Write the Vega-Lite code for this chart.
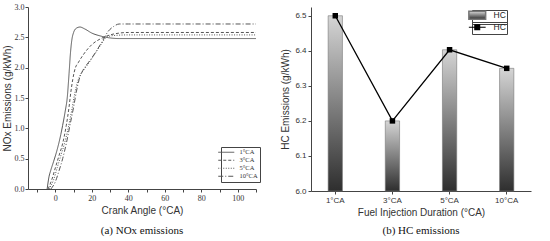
{
  "$schema": "https://vega.github.io/schema/vega-lite/v6.json",
  "background": "white",
  "padding": {"left": 2, "top": 3, "right": 5, "bottom": 3},
  "spacing": 22,
  "config": {
    "view": {"stroke": null},
    "axis": {"domainColor": "#444", "tickColor": "#444", "labelColor": "#333", "titleColor": "#333", "grid": false, "titleFontWeight": "normal", "tickSize": 3}
  },
  "hconcat": [
    {
      "width": 228,
      "height": 182,
      "title": {"text": "(a) NOx emissions", "orient": "bottom", "font": "Liberation Serif", "fontSize": 11, "fontWeight": "normal", "offset": 10, "color": "#111"},
      "data": {"values": [
        {"angle": -4.5, "nox": 0, "s": "1°CA"},
        {"angle": -3.5, "nox": 0.2, "s": "1°CA"},
        {"angle": -2.5, "nox": 0.31, "s": "1°CA"},
        {"angle": -1, "nox": 0.45, "s": "1°CA"},
        {"angle": 1, "nox": 0.65, "s": "1°CA"},
        {"angle": 3, "nox": 0.9, "s": "1°CA"},
        {"angle": 4, "nox": 1.05, "s": "1°CA"},
        {"angle": 5.5, "nox": 1.3, "s": "1°CA"},
        {"angle": 6.5, "nox": 1.5, "s": "1°CA"},
        {"angle": 7.5, "nox": 1.9, "s": "1°CA"},
        {"angle": 8.3, "nox": 2.25, "s": "1°CA"},
        {"angle": 9, "nox": 2.45, "s": "1°CA"},
        {"angle": 10, "nox": 2.58, "s": "1°CA"},
        {"angle": 11.5, "nox": 2.65, "s": "1°CA"},
        {"angle": 13.5, "nox": 2.67, "s": "1°CA"},
        {"angle": 16, "nox": 2.64, "s": "1°CA"},
        {"angle": 20, "nox": 2.57, "s": "1°CA"},
        {"angle": 25, "nox": 2.52, "s": "1°CA"},
        {"angle": 30, "nox": 2.49, "s": "1°CA"},
        {"angle": 35, "nox": 2.48, "s": "1°CA"},
        {"angle": 110, "nox": 2.48, "s": "1°CA"},
        {"angle": -4, "nox": 0, "s": "3°CA"},
        {"angle": -2, "nox": 0.15, "s": "3°CA"},
        {"angle": 0, "nox": 0.35, "s": "3°CA"},
        {"angle": 2, "nox": 0.55, "s": "3°CA"},
        {"angle": 4, "nox": 0.75, "s": "3°CA"},
        {"angle": 6, "nox": 1.05, "s": "3°CA"},
        {"angle": 7.5, "nox": 1.35, "s": "3°CA"},
        {"angle": 8.5, "nox": 1.6, "s": "3°CA"},
        {"angle": 9.5, "nox": 1.8, "s": "3°CA"},
        {"angle": 11, "nox": 2.0, "s": "3°CA"},
        {"angle": 12.5, "nox": 2.08, "s": "3°CA"},
        {"angle": 15, "nox": 2.2, "s": "3°CA"},
        {"angle": 20, "nox": 2.38, "s": "3°CA"},
        {"angle": 25, "nox": 2.48, "s": "3°CA"},
        {"angle": 30, "nox": 2.54, "s": "3°CA"},
        {"angle": 35, "nox": 2.57, "s": "3°CA"},
        {"angle": 40, "nox": 2.58, "s": "3°CA"},
        {"angle": 110, "nox": 2.58, "s": "3°CA"},
        {"angle": -3.5, "nox": 0, "s": "5°CA"},
        {"angle": -1, "nox": 0.15, "s": "5°CA"},
        {"angle": 1, "nox": 0.35, "s": "5°CA"},
        {"angle": 3, "nox": 0.55, "s": "5°CA"},
        {"angle": 5, "nox": 0.75, "s": "5°CA"},
        {"angle": 7, "nox": 1.0, "s": "5°CA"},
        {"angle": 9, "nox": 1.3, "s": "5°CA"},
        {"angle": 10.5, "nox": 1.55, "s": "5°CA"},
        {"angle": 12, "nox": 1.75, "s": "5°CA"},
        {"angle": 14, "nox": 1.9, "s": "5°CA"},
        {"angle": 16, "nox": 1.98, "s": "5°CA"},
        {"angle": 20, "nox": 2.15, "s": "5°CA"},
        {"angle": 25, "nox": 2.38, "s": "5°CA"},
        {"angle": 28, "nox": 2.5, "s": "5°CA"},
        {"angle": 32, "nox": 2.53, "s": "5°CA"},
        {"angle": 40, "nox": 2.54, "s": "5°CA"},
        {"angle": 110, "nox": 2.54, "s": "5°CA"},
        {"angle": -2.5, "nox": 0, "s": "10°CA"},
        {"angle": 0, "nox": 0.12, "s": "10°CA"},
        {"angle": 2, "nox": 0.3, "s": "10°CA"},
        {"angle": 4, "nox": 0.5, "s": "10°CA"},
        {"angle": 6, "nox": 0.75, "s": "10°CA"},
        {"angle": 8, "nox": 1.05, "s": "10°CA"},
        {"angle": 10, "nox": 1.35, "s": "10°CA"},
        {"angle": 11.5, "nox": 1.6, "s": "10°CA"},
        {"angle": 13, "nox": 1.8, "s": "10°CA"},
        {"angle": 15, "nox": 1.95, "s": "10°CA"},
        {"angle": 18, "nox": 2.08, "s": "10°CA"},
        {"angle": 22, "nox": 2.25, "s": "10°CA"},
        {"angle": 26, "nox": 2.45, "s": "10°CA"},
        {"angle": 29, "nox": 2.6, "s": "10°CA"},
        {"angle": 32, "nox": 2.68, "s": "10°CA"},
        {"angle": 35, "nox": 2.72, "s": "10°CA"},
        {"angle": 40, "nox": 2.72, "s": "10°CA"},
        {"angle": 110, "nox": 2.72, "s": "10°CA"}
      ]},
      "mark": {"type": "line", "interpolate": "monotone", "strokeWidth": 1, "color": "#555"},
      "encoding": {
        "x": {"field": "angle", "type": "quantitative", "scale": {"domain": [-15, 110], "nice": false},
          "axis": {"values": [-10, 0, 10, 20, 30, 40, 50, 60, 70, 80, 90, 100, 110], "labelExpr": "datum.value % 20 === 0 ? datum.label : ''", "labelFont": "Liberation Serif", "labelFontSize": 8, "title": "Crank Angle (°CA)", "titleFont": "Liberation Sans", "titleFontSize": 10, "titlePadding": 3}},
        "y": {"field": "nox", "type": "quantitative", "scale": {"domain": [0, 3], "nice": false},
          "axis": {"values": [0, 0.5, 1, 1.5, 2, 2.5, 3], "format": ".1f", "labelFont": "Liberation Serif", "labelFontSize": 8, "labelPadding": 1, "title": "NOx Emissions (g/kWh)", "titleFont": "Liberation Sans", "titleFontSize": 10, "titlePadding": 2}},
        "strokeDash": {"field": "s", "type": "nominal",
          "scale": {"domain": ["1°CA", "3°CA", "5°CA", "10°CA"], "range": [[1, 0], [3, 2], [1, 1.5], [5, 2, 1, 2]]},
          "legend": {"title": null, "orient": "none", "legendX": 193, "legendY": 140, "strokeColor": "#444", "padding": 2, "labelFont": "Liberation Serif", "labelFontSize": 6.5, "labelColor": "#333", "symbolType": "M-4,0H4", "symbolStrokeColor": "#555", "symbolStrokeWidth": 1, "symbolSize": 16, "rowPadding": 1, "labelOffset": 10}}
      }
    },
    {
      "width": 220,
      "height": 184,
      "title": {"text": "(b) HC emissions", "orient": "bottom", "font": "Liberation Serif", "fontSize": 11, "fontWeight": "normal", "offset": 8, "color": "#111"},
      "data": {"values": [
        {"dur": "1°CA", "hc": 6.5},
        {"dur": "3°CA", "hc": 6.2},
        {"dur": "5°CA", "hc": 6.403},
        {"dur": "10°CA", "hc": 6.35}
      ]},
      "encoding": {
        "x": {"field": "dur", "type": "nominal", "sort": null, "scale": {"paddingInner": 0.75, "paddingOuter": 0.3},
          "axis": {"labelAngle": 0, "labelFont": "Liberation Sans", "labelFontSize": 8, "title": "Fuel Injection Duration (°CA)", "titleFont": "Liberation Sans", "titleFontSize": 10, "titlePadding": 3}},
        "y": {"field": "hc", "type": "quantitative", "scale": {"domain": [6, 6.525], "nice": false, "zero": false},
          "axis": {"values": [6, 6.1, 6.2, 6.3, 6.4, 6.5], "format": ".1f", "labelFont": "Liberation Sans", "labelFontSize": 8, "title": "HC Emissions (g/kWh)", "titleFont": "Liberation Sans", "titleFontSize": 10, "titlePadding": 4}}
      },
      "layer": [
        {
          "mark": {"type": "bar", "strokeWidth": 0.6, "color": {"gradient": "linear", "x1": 0, "y1": 0, "x2": 0, "y2": 1, "stops": [{"offset": 0, "color": "#d5d5d5"}, {"offset": 1, "color": "#2e2e2e"}]}},
          "encoding": {
            "y2": {"datum": 6},
            "stroke": {"datum": "HC", "type": "nominal", "scale": {"range": ["#777"]},
              "legend": {"title": null, "orient": "none", "legendX": 444, "legendY": 3, "symbolType": "M-2.8,-1.3H2.8V1.3H-2.8Z", "symbolFillColor": "#999", "symbolStrokeColor": "#666", "symbolSize": 36, "labelFont": "Liberation Sans", "labelFontSize": 8.5, "labelColor": "#222", "strokeColor": "#444", "padding": 1, "labelOffset": 12}}
          }
        },
        {
          "mark": {"type": "line", "strokeWidth": 1.3, "point": {"shape": "square", "size": 30, "filled": true}},
          "encoding": {
            "color": {"datum": "HC ", "type": "nominal", "scale": {"range": ["black"]},
              "legend": {"title": null, "orient": "none", "legendX": 444, "legendY": 15, "symbolType": "M-2.8,0H2.8M-0.8,-0.8H0.8V0.8H-0.8Z", "symbolSize": 36, "labelFont": "Liberation Sans", "labelFontSize": 8.5, "labelColor": "#222", "strokeColor": "#444", "padding": 1, "labelOffset": 12,
                "encode": {"symbols": {"update": {"fill": {"value": "black"}, "stroke": {"value": "black"}, "strokeWidth": {"value": 1.2}}}}}}
          }
        }
      ]
    }
  ]
}
